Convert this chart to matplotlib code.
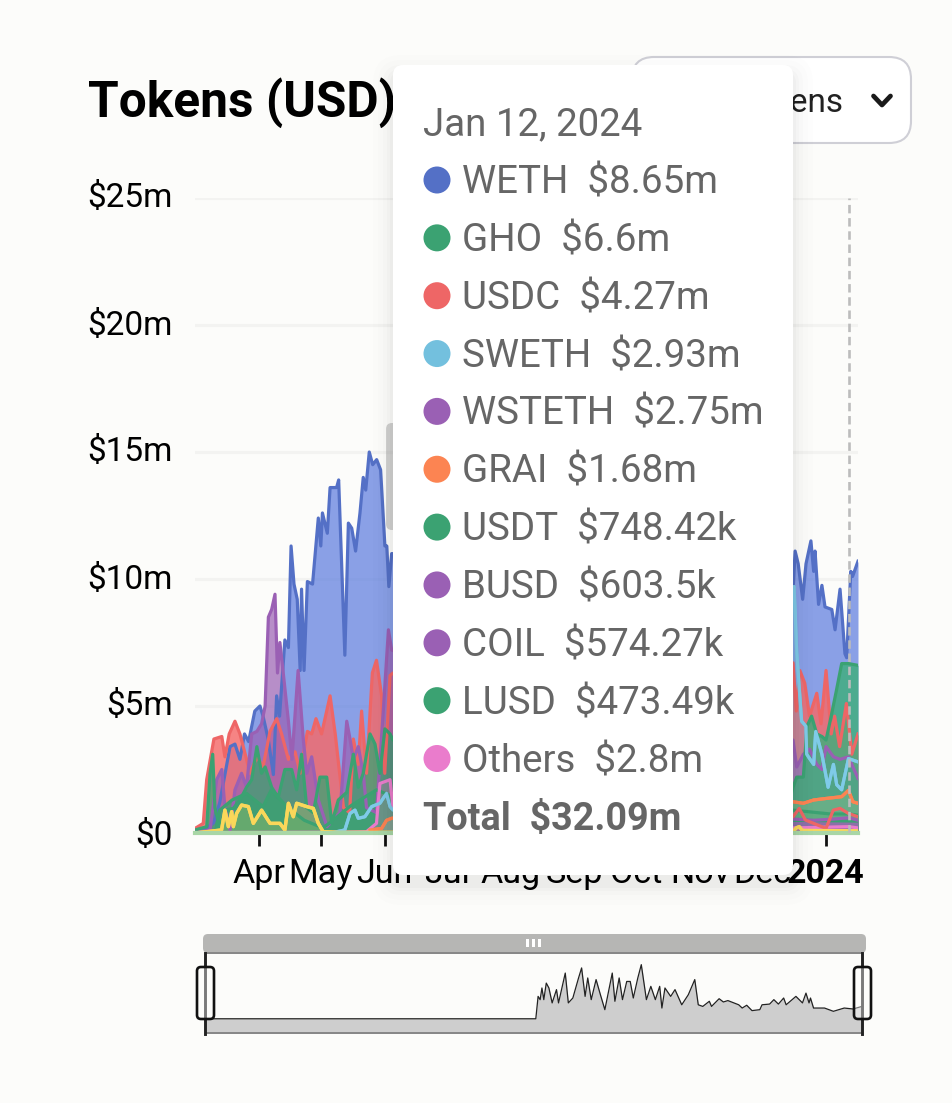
import numpy as np
import matplotlib
matplotlib.use('Agg')
import matplotlib.pyplot as plt
from matplotlib.patches import FancyBboxPatch, Rectangle, Circle
from matplotlib.transforms import ScaledTranslation

plt.rcParams['font.family'] = ['Roboto', 'DejaVu Sans']

W, H = 953, 1103
BG = '#fcfcfa'

# all series: day offset from 2023-03-01, value in $m
weth_d = [0, 5.7, 9, 12, 14.5, 17, 19.4, 21.8, 24, 26, 29, 31.5, 33, 35.5, 38, 39.6, 41, 43.6, 45.3, 46.6, 48, 49.6, 51, 51.7, 52.9, 54.5, 57, 59.8, 61, 61.8, 64.2, 65.5, 68.7, 69.7, 72.7, 74.4, 76, 77.9, 80, 81.6, 82.8, 84.5, 86.2, 88.1, 90, 92.1, 93, 94, 95.4,
          290.2, 291, 292.5, 294.7, 296.3, 298.7, 300, 300.7, 302.4, 304, 305.5, 308.8, 310.4, 312.8, 315.2, 316, 318, 318.9, 321.5]
weth_v = [0.1, 0.2, 0.4, 1.2, 2.3, 3.4, 3.5, 2.9, 3.9, 3.6, 4.8, 5.0, 4.6, 3.7, 2.3, 5.4, 4.6, 7.6, 7.3, 11.3, 9.8, 9.2, 6.4, 9.6, 6.4, 9.9, 9.8, 12.4, 11.3, 12.6, 11.8, 13.6, 13.6, 13.9, 7.0, 12.2, 12.0, 11.1, 12.6, 14.0, 13.5, 15.0, 14.5, 14.7, 14.3, 11.3, 11.3, 9.7, 11.0,
          9.8, 11.1, 10.6, 9.2, 10.6, 11.5, 10.3, 11.1, 9.0, 9.75, 8.9, 8.8, 8.0, 9.6, 7.06, 6.9, 10.3, 10.1, 10.7]

usdc_d = [0, 4, 5.7, 9.2, 13, 14.5, 16.6, 19.4, 21.8, 25, 26.7, 30, 33, 36.4, 39.6, 42, 45.3, 48.5, 51, 54.5, 56.6, 58.7, 61.4, 65.5, 68, 72, 75, 76.8, 79.2, 80.8, 83.2, 86, 88, 90.5, 92, 94.6, 96,
          290, 291.6, 293.3, 295.7, 298, 301.5, 303.6, 306, 308.5, 310.2, 312.6, 315.9, 318.5, 321.5]
usdc_v = [0.18, 0.38, 2.1, 3.7, 3.8, 3.0, 3.9, 4.4, 3.9, 2.9, 2.35, 3.0, 2.6, 4.0, 4.5, 3.9, 2.9, 3.2, 2.35, 4.0, 3.9, 4.5, 3.9, 5.4, 3.9, 1.0, 0.8, 3.7, 2.7, 4.8, 2.35, 6.3, 6.8, 5.4, 2.35, 6.2, 6.3,
          6.7, 4.8, 6.4, 5.9, 4.6, 5.5, 4.3, 6.4, 3.9, 4.6, 3.4, 5.1, 3.1, 3.9]

wsteth_d = [0, 7.3, 10.5, 13, 14.5, 17, 19.4, 22.6, 25, 27.5, 30, 32.3, 34, 35.6, 37.2, 38.8, 40, 41.2, 42.8, 45.3, 47, 50, 52.5, 54.2, 56.6, 59.8, 64, 70.3, 73.6, 75.2, 76.8, 79.2, 81.6, 83.2, 88, 91.3, 93.8, 95.4,
            290, 291.8, 295, 298, 301.5, 304, 306, 309.6, 312.8, 316.9, 321.5]
wsteth_v = [0.03, 0.12, 2.1, 2.5, 1.0, 0.12, 1.7, 2.35, 1.8, 3.9, 4.0, 4.3, 5.0, 8.5, 8.8, 9.4, 6.3, 7.5, 6.3, 4.4, 2.9, 6.4, 3.7, 2.35, 3.0, 1.3, 0.25, 0.8, 4.4, 3.7, 2.9, 3.4, 2.35, 1.0, 0.8, 4.8, 8.0, 7.2,
            3.66, 2.6, 3.1, 3.3, 2.7, 2.5, 3.4, 3.0, 2.9, 3.0, 2.15]

usdt_d = [0, 5.7, 7.3, 8.6, 9.7, 12, 14.5, 18.6, 21.8, 25, 27.5, 30, 32.3, 34, 37.2, 40.4, 43.6, 46.9, 49.3, 51.7, 54.2, 57.4, 60.6, 63.9, 66.3, 69.5, 73.6, 76.8, 79.2, 81.6, 84.9, 87.3, 89.7, 92.1, 94.6, 96,
          290, 296, 302, 308, 314, 317, 321.5]
usdt_v = [0.12, 0.25, 2.35, 3.1, 1.0, 0.18, 0.9, 0.97, 1.3, 1.8, 2.1, 3.4, 2.35, 2.6, 1.8, 1.4, 2.5, 2.5, 1.7, 3.1, 1.0, 0.8, 2.2, 2.2, 0.38, 1.3, 1.6, 3.1, 1.8, 2.35, 3.9, 3.5, 2.35, 4.1, 3.9, 3.66,
          0.9, 0.85, 0.8, 0.75, 0.75, 0.75, 0.7]

gho_d = [284, 290, 291.8, 295, 296.8, 299, 301.5, 304, 306, 308.5, 311, 313.6, 316.9, 321.5]
gho_v = [0, 1.8, 2.2, 2.2, 4.2, 4.6, 3.9, 3.8, 3.66, 4.6, 5.6, 6.67, 6.67, 6.6]

lusd_d = [10, 12, 18, 25, 33, 37, 45, 53, 62, 67, 75, 80, 88, 94, 96, 290, 321.5]
lusd_v = [0.1, 0.9, 1.3, 1.56, 1.04, 1.7, 1.0, 0.5, 0.2, 0.5, 1.04, 1.3, 1.7, 1.5, 0.9, 0.5, 0.47]

yellow_d = [0, 12.9, 14.5, 16.2, 17.8, 18.6, 20.2, 22.6, 25.9, 28.3, 32.3, 36.4, 41.2, 43.6, 45.3, 47.7, 49.3, 54.2, 57.4, 59.8, 62.2, 70, 290, 291.5, 293, 294.5, 321.5]
yellow_v = [0, 0.12, 0.9, 0.25, 0.84, 0.25, 0.77, 1.1, 1.04, 0.38, 0.9, 0.38, 0.38, 0.12, 1.17, 0.64, 1.17, 1.04, 0.97, 0.38, 0.05, 0.02, 0.05, 0.2, 0.25, 0.1, 0.08]

sweth_d = [66, 68.7, 72.7, 75.2, 77.6, 79.2, 82.4, 85.7, 89.7, 92.9, 94.6, 96,
           288, 290.5, 291.8, 294.2, 296.3, 296.6, 300, 301, 304, 307, 309.6, 311.2, 313.6, 316.9, 321.5]
sweth_v = [0, 0.05, 0.12, 0.77, 0.9, 0.58, 0.64, 1.04, 1.17, 1.56, 1.04, 0.9,
           9.5, 9.7, 7.1, 4.4, 4.2, 3.1, 2.7, 4.0, 3.1, 1.8, 2.7, 1.9, 1.7, 2.93, 2.8]

grai_d = [84.9, 90.5, 92.9, 95.4, 290, 295, 300, 306, 313.6, 316.9, 319, 321.5]
grai_v = [0.12, 0.18, 0.5, 0.58, 1.23, 1.17, 1.3, 1.36, 1.43, 1.68, 1.23, 1.17]

red2_d = [288, 290, 293, 296, 306, 309.5, 312.8, 316.9, 321.5]
red2_v = [0.6, 0.64, 0.97, 0.51, 0.18, 0.9, 0.97, 0.77, 0.64]

busd_d = [285, 290, 300, 310, 317, 321.5]
busd_v = [0.5, 0.55, 0.5, 0.55, 0.6, 0.5]

others_d = [0, 70, 83.2, 88, 89.7, 94.6, 96, 290, 317, 321.5]
others_v = [0.02, 0.03, 0.05, 0.38, 1.95, 2.1, 1.0, 0.2, 0.25, 0.2]

# order of drawing, back to front: days, values, line colour, fill colour, fill alpha
series = [
    (weth_d, weth_v, '#5470c6', '#5a7ade', 0.7),
    (usdc_d, usdc_v, '#ee6666', '#f56a6a', 0.82),
    (wsteth_d, wsteth_v, '#9a60b4', '#9a60b4', 0.7),
    (sweth_d, sweth_v, '#73c0de', '#73c0de', 0.25),
    (gho_d, gho_v, '#3ba272', '#3fae7c', 0.82),
    (usdt_d, usdt_v, '#3ba272', '#3ba272', 0.75),
    (lusd_d, lusd_v, '#3ba272', '#3ba272', 0.8),
    (grai_d, grai_v, '#fc8452', '#7fb98a', 0.5),
    (others_d, others_v, '#ea7ccc', '#ea7ccc', 0.25),
    (busd_d, busd_v, '#9a60b4', '#9a60b4', 0.8),
    (red2_d, red2_v, '#ee6666', '#ee6666', 0.0),
    (yellow_d, yellow_v, '#fad75a', '#fad75a', 0.2),
]
# these outlines sit on top of the green fills
top_lines = [(sweth_d, sweth_v, '#7fcbe8'), (grai_d, grai_v, '#fc8452')]

month_ticks = ['2023-04-01', '2023-05-01', '2023-06-01', '2023-07-01', '2023-08-01', '2023-09-01',
               '2023-10-01', '2023-11-01', '2023-12-01', '2024-01-01']
month_labels = ['Apr', 'May', 'Jun', 'Jul', 'Aug', 'Sep', 'Oct', 'Nov', 'Dec', '2024']
y_ticks = [0, 5, 10, 15, 20, 25]
y_labels = ['$0', '$5m', '$10m', '$15m', '$20m', '$25m']

tip_date = 'Jan 12, 2024'
tip_names = ['WETH', 'GHO', 'USDC', 'SWETH', 'WSTETH', 'GRAI', 'USDT', 'BUSD', 'COIL', 'LUSD', 'Others']
tip_values = ['$8.65m', '$6.6m', '$4.27m', '$2.93m', '$2.75m', '$1.68m', '$748.42k', '$603.5k', '$574.27k', '$473.49k', '$2.8m']
tip_colors = ['#5470c6', '#3ba272', '#ee6666', '#73c0de', '#9a60b4', '#fc8452', '#3ba272', '#9a60b4', '#9a60b4', '#3ba272', '#ea7ccc']
tip_total = '$32.09m'

# overview strip under the chart
mini_d = [0, 161.9, 163, 164, 164.9, 165.8, 167, 168.3, 169.9, 172, 173, 176.3, 177.8, 180, 182.8, 184.3, 186, 187.3, 189, 191.4, 193.5, 195.7, 199.3, 200.6, 202.7, 204.3, 206.4, 208.1, 209.6, 211.8, 213.5, 216, 218.2, 220.4, 222.5, 223.6, 225.1, 227.9, 230, 233.3, 236.5, 239.7, 241.4, 243.6, 246.8, 247.9, 251.6, 253.7, 255.9, 261.2, 262.9, 265.1, 267.7, 271.5, 272.6, 276.3, 278.4, 280.6, 283.2, 284.4, 289.2, 292.4, 294.1, 295.6, 296.3, 297.8, 303.2, 307.5, 312.8, 317.1, 321.5]
mini_v = [6.1, 6.1, 15.7, 14.3, 19.3, 14.3, 21.4, 19.3, 12.9, 18.6, 12.9, 25.7, 12.9, 15, 23.6, 27.9, 15.7, 23.6, 14.3, 22.9, 16.4, 10, 25.7, 13.6, 23.6, 14.3, 22.1, 22.1, 15, 23.6, 29.3, 14.3, 20, 14.3, 20, 10.7, 19.3, 15.7, 18.6, 12.1, 16.4, 22.9, 12.1, 11.4, 13.6, 11.4, 14.7, 13.3, 13.9, 12.1, 10.7, 11.9, 9.6, 10, 12.1, 12.4, 14.3, 12.4, 15, 12.1, 15.7, 12.9, 17.1, 12.9, 15, 10.7, 10.7, 9.3, 10.7, 10.3, 11.4]

X0 = np.datetime64('2023-03-01')
X1 = np.datetime64('2024-01-16T12')


def to_dates(days):
    hours = (np.array(days, dtype=float) * 24).astype(int)
    return np.datetime64('2023-03-01T00') + hours.astype('timedelta64[h]')


def px_axes(fig, x0, y0, x1, y1, **kw):
    return fig.add_axes([x0 / W, 1 - y1 / H, (x1 - x0) / W, (y1 - y0) / H], **kw)


fig = plt.figure(figsize=(W / 100, H / 100), dpi=100, facecolor=BG)

# main chart
ax = px_axes(fig, 195, 198, 858, 833, facecolor='none')
for d, v, c, fc, a in series:
    x = to_dates(d)
    ax.fill_between(x, v, 0, color=fc, alpha=a, lw=0)
    ax.plot(x, v, color=c, lw=2.3, solid_joinstyle='round')
for d, v, c in top_lines:
    ax.plot(to_dates(d), v, color=c, lw=2.3, solid_joinstyle='round')
ax.plot(to_dates(yellow_d), yellow_v, color='#fad75a', lw=2.5)
ax.axhline(0, color='#a9d6a6', lw=3, clip_on=False, zorder=6)
ax.axvline(np.datetime64('2024-01-12'), color='#bcbcbc', lw=1.9, ls=(0, (3.2, 1.8)), zorder=7)
ax.set_xlim(X0, X1)
ax.set_ylim(0, 25)
ax.set_yticks(y_ticks, y_labels)
ax.set_xticks(np.array(month_ticks, dtype='datetime64[D]'), month_labels)
ax.grid(axis='y', color='#f3f3f1', lw=2.2, zorder=0)
ax.set_axisbelow(True)
ax.tick_params(axis='y', length=0, pad=16, labelsize=24)
ax.tick_params(axis='x', length=9, width=2, color='#111111', pad=9, labelsize=24.5)
ax.get_xticklabels()[-1].set_fontweight('bold')
for lab in ax.get_yticklabels()[1:]:
    lab.set_transform(lab.get_transform() + ScaledTranslation(0, 3 / 100, fig.dpi_scale_trans))
for s in ax.spines.values():
    s.set_visible(False)

# overview strip
mini = px_axes(fig, 205, 953, 862, 1033, facecolor='none')
mini.fill_between(to_dates(mini_d), mini_v, 0, color='#cecece', lw=0)
mini.plot(to_dates(mini_d), mini_v, color='#222222', lw=0.9)
mini.set_xlim(X0, X1)
mini.set_ylim(0, 34.3)
mini.axis('off')

# page furniture in pixel coordinates
ui = fig.add_axes([0, 0, 1, 1], facecolor='none', zorder=5)
ui.set_xlim(0, W)
ui.set_ylim(H, 0)
ui.axis('off')


def rbox(x0, y0, x1, y1, r, **kw):
    p = FancyBboxPatch((x0 + r, y0 + r), x1 - x0 - 2 * r, y1 - y0 - 2 * r,
                       boxstyle='round,pad=%g,rounding_size=%g' % (r, r), **kw)
    ui.add_patch(p)
    return p


ui.text(88, 103, 'Tokens (USD)', fontsize=35.7, fontweight='bold', color='black', va='center')

# dropdown
rbox(632, 57, 911, 143, 22, fc='white', ec='#cfcfd6', lw=1.5, zorder=1)
ui.text(843, 103, 'Tokens', fontsize=24, color='#222222', ha='right', va='center', zorder=2)
ui.plot([873.5, 882, 890.5], [96, 105, 96], color='#1a1a1a', lw=3.4, solid_capstyle='round',
        solid_joinstyle='round', zorder=2)

# strip frame
rbox(203, 934, 866, 953, 5, fc='#b6b6b4', ec='none', zorder=1)
ui.add_patch(Rectangle((205, 951.5), 657, 2.5, fc='#888888', ec='none', zorder=1))
ui.add_patch(Rectangle((205, 1031.5), 657, 2.5, fc='#888888', ec='none', zorder=1))
for x in (527.5, 533.5, 539.5):
    ui.add_patch(Rectangle((x - 1, 939), 2.4, 8, fc='white', ec='none', zorder=2))
for x in (205, 862):
    ui.plot([x, x], [953, 1034], color='#222222', lw=2.1, zorder=2)
    rbox(x - 8, 967, x + 9, 1019, 4, fc='#ffffff66', ec='#111111', lw=1.9, zorder=3)

# slider handle poking out behind the tooltip
rbox(386, 423, 402, 530, 6, fc='#999999', ec='none', alpha=0.42, zorder=3)

# tooltip shadow then body
for g, a in [(20, 0.006), (15, 0.008), (10, 0.012), (6, 0.016), (3, 0.02)]:
    rbox(393 - g, 65 - g + 10, 793 + g, 875 + g + 10, 8 + g, fc='black', ec='none', alpha=a, zorder=4)
rbox(393, 65, 793, 875, 10, fc='white', ec='none', zorder=5)

tip_font = 27.7
ui.text(423, 125, tip_date, fontsize=tip_font, color='#666666', va='center', zorder=6)
for i, (n, v, c) in enumerate(zip(tip_names, tip_values, tip_colors)):
    y = 180 + i * 57.85
    ui.add_patch(Circle((437, y), 13.5, fc=c, ec='none', zorder=6))
    ui.text(462, y + 3, n + '  ' + v, fontsize=tip_font, color='#666666', va='center', zorder=6)
ui.text(423, 819, 'Total  ' + tip_total, fontsize=27.2, fontweight='bold', color='#666666', va='center', zorder=6)

fig.savefig('out.png', dpi=100, facecolor=BG)
